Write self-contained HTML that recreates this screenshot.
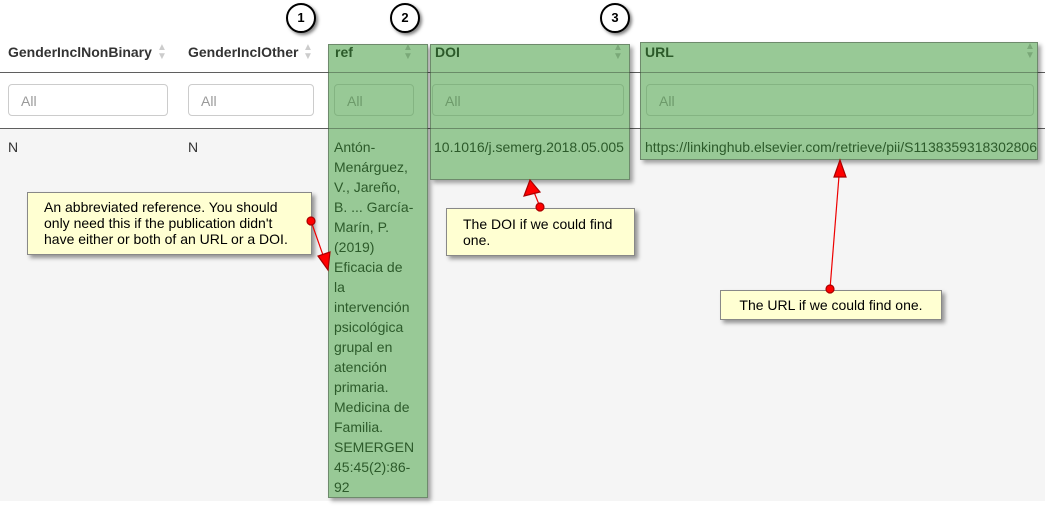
<!DOCTYPE html>
<html><head><meta charset="utf-8"><style>
body{margin:0;width:1051px;height:508px;background:#fff;position:relative;overflow:hidden;font-family:"Liberation Sans",Arial,sans-serif;font-size:14px;color:#333}
.a{position:absolute}
.th{font-weight:bold;font-size:14px;top:44px}
.inp{position:absolute;top:84px;height:32px;border:1px solid #ccc;border-radius:4px;background:#fff;box-sizing:border-box;color:#999;padding:8px 12px;font-size:14px}
.g{position:absolute;background:#98c996;border:1px solid #6e8a6c;box-shadow:3px 3px 4px rgba(0,0,0,.35);box-sizing:border-box}
.gi{border-color:#84b482;background:transparent;color:#6d9a6a}
.gt{color:#2c5a2a}
.c{position:absolute;background:#ffffd2;border:1px solid #888;box-shadow:3px 3px 4px rgba(0,0,0,.4);box-sizing:border-box;color:#000;font-size:14px;line-height:16px}
.circ{position:absolute;width:26px;height:26px;border:2px solid #000;border-radius:50%;background:#fff;box-shadow:2px 2px 3px rgba(0,0,0,.5);text-align:center;line-height:26px;font-weight:bold;font-size:13px;color:#000}
.sort{position:absolute;top:43px;color:#ccc;font-size:10px;line-height:9px}
</style></head><body>
<div class="a" style="left:0;top:128px;width:1045px;height:373px;background:#f5f5f5"></div>
<div class="a" style="left:0;top:72px;width:1045px;height:1px;background:#888"></div>
<div class="a" style="left:0;top:128px;width:1045px;height:1px;background:#888"></div>
<div class="a th" style="left:8px">GenderInclNonBinary</div>
<div class="sort" style="left:157px">▲<br>▼</div>
<div class="a th" style="left:188px">GenderInclOther</div>
<div class="sort" style="left:303px">▲<br>▼</div>
<div class="inp" style="left:8px;width:160px">All</div>
<div class="inp" style="left:188px;width:126px">All</div>
<div class="a" style="left:8px;top:139px">N</div>
<div class="a" style="left:188px;top:139px">N</div>

<div class="g" style="left:328px;top:44px;width:100px;height:454px"></div>
<div class="g" style="left:430px;top:44px;width:200px;height:136px"></div>
<div class="g" style="left:640px;top:42px;width:398px;height:118px"></div>
<div class="a" style="left:0;top:72px;width:1045px;height:1px;background:rgba(0,0,0,.3)"></div>
<div class="a" style="left:0;top:128px;width:1045px;height:1px;background:rgba(0,0,0,.3)"></div>

<div class="a th gt" style="left:335px">ref</div>
<div class="a th gt" style="left:435px">DOI</div>
<div class="a th gt" style="left:645px">URL</div>
<div class="sort" style="left:403px;color:#7aa878">▲<br>▼</div>
<div class="sort" style="left:613px;color:#7aa878">▲<br>▼</div>
<div class="sort" style="left:1025px;top:42px;color:#7aa878">▲<br>▼</div>
<div class="inp gi" style="left:334px;width:80px">All</div>
<div class="inp gi" style="left:432px;width:192px">All</div>
<div class="inp gi" style="left:646px;width:388px">All</div>
<div class="a gt" style="left:334px;top:137px;line-height:20px;width:92px">Antón-<br>Menárguez,<br>V., Jareño,<br>B. ... García-<br>Marín, P.<br>(2019)<br>Eficacia de<br>la<br>intervención<br>psicológica<br>grupal en<br>atención<br>primaria.<br>Medicina de<br>Familia.<br>SEMERGEN<br>45:45(2):86-<br>92</div>
<div class="a gt" style="left:434px;top:139px">10.1016/j.semerg.2018.05.005</div>
<div class="a gt" style="left:645px;top:139px">https://linkinghub.elsevier.com/retrieve/pii/S1138359318302806</div>

<div class="circ" style="left:286px;top:3px">1</div>
<div class="circ" style="left:390px;top:3px">2</div>
<div class="circ" style="left:600px;top:3px">3</div>

<div class="c" style="left:27px;top:192px;width:285px;height:63px;padding:6px 20px 0 16px">An abbreviated reference. You should only need this if the publication didn't have either or both of an URL or a DOI.</div>
<div class="c" style="left:446px;top:208px;width:189px;height:48px;padding:7px 0 0 16px">The DOI if we could find one.</div>
<div class="c" style="left:720px;top:290px;width:222px;height:30px;padding:6px 0 0 0;text-align:center">The URL if we could find one.</div>

<svg class="a" style="left:0;top:0" width="1051" height="508">
<g stroke="#e00" fill="#f00" stroke-width="1.2">
<line x1="311" y1="221" x2="324" y2="258"/>
<polygon points="328,270 318,256 330,252" stroke="#a00"/>
<circle cx="311" cy="221" r="4" stroke="#a00"/>
<line x1="540" y1="207" x2="534" y2="192"/>
<polygon points="530,180 524,196 540,192" stroke="#a00"/>
<circle cx="540" cy="207" r="4" stroke="#a00"/>
<line x1="830" y1="289" x2="839" y2="176"/>
<polygon points="840,160 834,177 846,177" stroke="#a00"/>
<circle cx="830" cy="289" r="4" stroke="#a00"/>
</g>
</svg>
</body></html>
